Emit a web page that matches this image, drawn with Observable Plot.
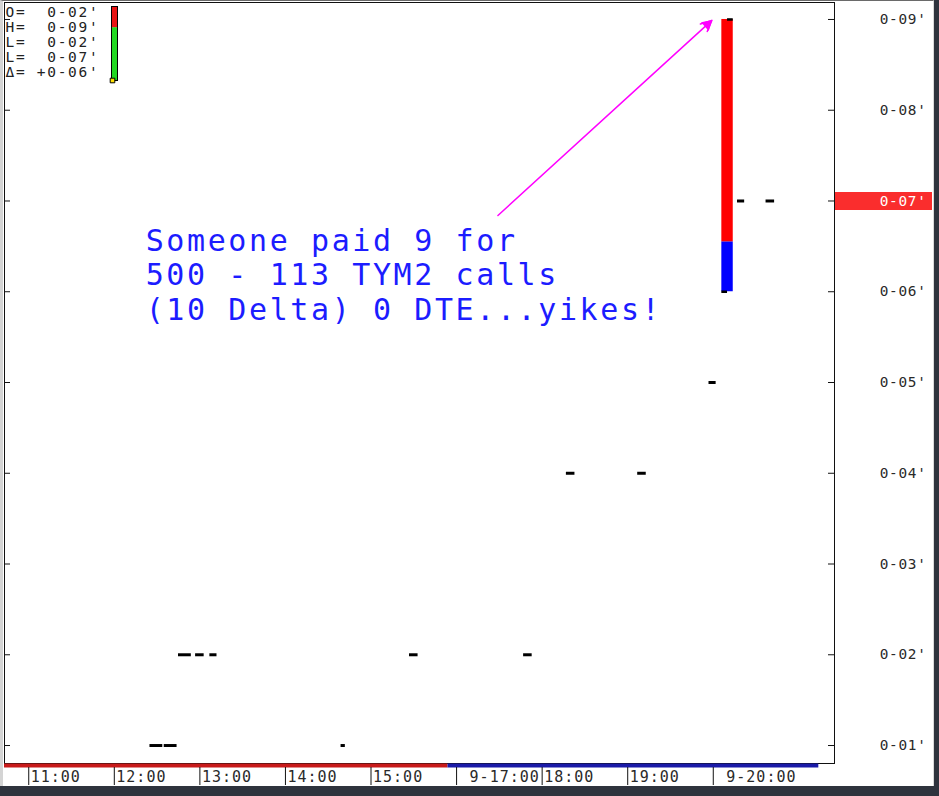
<!DOCTYPE html>
<html><head><meta charset="utf-8">
<script src="https://cdn.jsdelivr.net/npm/d3@7"></script>
<script src="https://cdn.jsdelivr.net/npm/@observablehq/plot@0.6"></script>
<style>
html,body{margin:0;padding:0;background:#2e333d;}
#wrap{position:relative;width:939px;height:796px;overflow:hidden;background:#2e333d;}
#panel{position:absolute;left:0;top:0;width:934px;height:786px;background:#fff;border-left:3px solid #d4d4d4;border-top:1px solid #6a6a6a;border-right:1px solid #d9d9d9;box-sizing:border-box;}
#chart{position:absolute;left:0;top:0;}
#mini{position:absolute;left:108px;top:0;}
svg text{white-space:pre;}
</style></head><body>
<div id="wrap"><div id="panel"></div><div id="chart"></div><div id="mini"></div></div>
<script>
// ---- data ----
const priceLevels = [1, 2, 3, 4, 5, 6, 7, 8, 9];
const priceLabels = ["0-01'", "0-02'", "0-03'", "0-04'", "0-05'", "0-06'", "0-07'", "0-08'", "0-09'"];
const yDomain = [0.802, 9.187];
const xDomain = ["10:43", "21:25"];

const timeTicks = ["11:00", "12:00", "13:00", "14:00", "15:00", "17:00", "18:00", "19:00", "20:00"];
const timeTickLabels = ["11:00", "12:00", "13:00", "14:00", "15:00", "9-17:00", "18:00", "19:00", "9-20:00"];

const tradeStarts = ["12:25", "12:35", "14:39", "12:45", "12:57", "13:07", "15:27", "17:47", "18:17", "19:07", "19:57", "20:17", "20:37"];
const tradeEnds   = ["12:34", "12:44", "14:42", "12:54", "13:03", "13:12", "15:33", "17:53", "18:23", "19:13", "20:02", "20:22", "20:43"];
const tradePrices = [1, 1, 1, 2, 2, 2, 2, 2, 4, 4, 5, 7, 7];

const bigBarTimes = ["20:06", "20:10", "20:14"]; // start, mid, end
const bigBarOpen = 6, bigBarClose = 9;
const bigBarLows = [6, 6.55];
const bigBarHighs = [6.55, 9];
const bigBarColors = ["#0000ff", "#ff0000"];

const sessionStarts = ["10:43", "15:54"];
const sessionEnds = ["15:54", "21:14"];
const sessionColors = ["#c81a1a", "#1a1aa8"];

const arrowTimes = ["17:29", "19:59"];
const arrowPrices = [6.84, 8.99];

const noteLines = ["Someone paid 9 for", "500 - 113 TYM2 calls", "(10 Delta) 0 DTE...yikes!"];
const noteTime = "12:22";
const notePrice = 6.72;

const legendKeys = ["O=", "H=", "L=", "L=", "Δ="];
const legendValues = ["0-02'", "0-09'", "0-02'", "0-07'", "+0-06'"];
const dayOpen = 2, dayHigh = 9, dayLow = 2, lastPrice = 7;

// ---- helpers ----
function tIndex(s) {
  const [h, m] = s.split(":").map(Number);
  const v = h + m / 60;
  return v >= 17 ? v - 1 : Math.min(v, 16); // remove 16:00-17:00 session break
}
const trades = tradeStarts.map((s, i) => ({start: s, end: tradeEnds[i], price: tradePrices[i]}));
const bigBar = bigBarLows.map((lo, i) => ({lo, hi: bigBarHighs[i], color: bigBarColors[i]}));
const sessions = sessionStarts.map((s, i) => ({start: s, end: sessionEnds[i], color: sessionColors[i]}));

const W = 939, H = 796, ML = 4, MR = 105, MT = 2, MB = 33;
const plotW = W - ML - MR, plotH = H - MT - MB;
const mono = "DejaVu Sans Mono";
const FS_NOTE = 30, FS_LEGEND = 14.5, FS_PRICE = 14.4, FS_TIME = 15;
const spacingBySize = {[FS_NOTE]: "2.6px", [FS_LEGEND]: "1.7px", [FS_PRICE]: "0.7px", [FS_TIME]: "1px"};

const chart = Plot.plot({
  width: W, height: H,
  marginLeft: ML, marginRight: MR, marginTop: MT, marginBottom: MB,
  style: {background: "transparent", fontFamily: mono},
  x: {domain: xDomain.map(tIndex), axis: null},
  y: {domain: yDomain, axis: null},
  marks: [
    // last price highlight
    Plot.ruleY([lastPrice], {stroke: "#fa2d2d", strokeWidth: 18, insetLeft: plotW - 98, dx: 98}),
    Plot.frame({stroke: "#111"}),
    Plot.ruleY(priceLevels, {insetRight: plotW - 6, stroke: "#111"}),
    Plot.ruleY(priceLevels, {insetLeft: plotW - 6, stroke: "#111"}),
    Plot.text(priceLevels, {
      y: d => d, text: (d, i) => priceLabels[i], frameAnchor: "right", dx: 92,
      textAnchor: "end", fontSize: FS_PRICE, fill: d => d === lastPrice ? "#fff" : "#2a2a2a"
    }),
    // session strip
    Plot.ruleY(sessions, {
      y: yDomain[0], x1: d => tIndex(d.start), x2: d => tIndex(d.end),
      stroke: d => d.color, strokeWidth: 4, dy: 2
    }),
    // time axis
    Plot.tickX(timeTicks, {x: d => tIndex(d), insetTop: plotH - 18, dy: 22, stroke: "#111"}),
    Plot.text(timeTicks, {
      filter: (d, i) => !timeTickLabels[i].includes("-"),
      x: d => tIndex(d), text: d => timeTickLabels[timeTicks.indexOf(d)],
      frameAnchor: "bottom", dy: 18, dx: 2, textAnchor: "start", fontSize: FS_TIME, fill: "#2a2a2a"
    }),
    Plot.text(timeTicks, {
      filter: (d, i) => timeTickLabels[i].includes("-"),
      x: d => tIndex(d), text: d => timeTickLabels[timeTicks.indexOf(d)],
      frameAnchor: "bottom", dy: 18, dx: 13, textAnchor: "start", fontSize: FS_TIME, fill: "#2a2a2a"
    }),
    // trades
    Plot.ruleY(trades, {y: "price", x1: d => tIndex(d.start), x2: d => tIndex(d.end), stroke: "#000", strokeWidth: 3}),
    // big bar
    Plot.rect(bigBar, {x1: tIndex(bigBarTimes[0]), x2: tIndex(bigBarTimes[2]), y1: "lo", y2: "hi", fill: d => d.color}),
    Plot.ruleY([bigBarOpen], {x1: tIndex(bigBarTimes[0]), x2: tIndex(bigBarTimes[1]), stroke: "#000", strokeWidth: 2.5}),
    Plot.ruleY([bigBarClose], {x1: tIndex(bigBarTimes[1]), x2: tIndex(bigBarTimes[2]), stroke: "#000", strokeWidth: 2.5}),
    // annotation arrow
    Plot.arrow([0], {
      x1: tIndex(arrowTimes[0]), y1: arrowPrices[0], x2: tIndex(arrowTimes[1]), y2: arrowPrices[1],
      stroke: "#ff00ff", strokeWidth: 1.5, headLength: 12, headAngle: 50
    }),
    Plot.dot([0], {
      x: tIndex(arrowTimes[1]), y: arrowPrices[1], symbol: "triangle2", r: 5.5,
      fill: "#ff00ff", rotate: 48, dx: -4.5, dy: 4
    }),
    Plot.text([noteLines.join("\n")], {
      x: tIndex(noteTime), y: notePrice, textAnchor: "start", lineAnchor: "top",
      fontSize: FS_NOTE, lineHeight: 1.15, fill: "#1c1cff"
    }),
    // OHLC legend
    Plot.text([legendKeys.map((k, i) => k.padEnd(3) + legendValues[i].padStart(6)).join("\n")], {
      frameAnchor: "top-left", dx: 1, dy: 4, textAnchor: "start", lineAnchor: "top",
      fontSize: FS_LEGEND, lineHeight: 1.03, fill: "#222"
    })
  ]
});
d3.select(chart).selectAll("g[font-size]").each(function() {
  const ls = spacingBySize[+this.getAttribute("font-size")];
  if (ls) this.style.letterSpacing = ls;
});
document.getElementById("chart").appendChild(chart);

const mini = Plot.plot({
  width: 14, height: 86, marginLeft: 3, marginRight: 5, marginTop: 6, marginBottom: 6,
  style: {background: "transparent", overflow: "visible"},
  x: {domain: [0, 1], axis: null},
  y: {domain: [dayLow, dayHigh], axis: null},
  marks: [
    Plot.rect([0], {x1: 0, x2: 1, y1: dayLow, y2: lastPrice, fill: "#22d822"}),
    Plot.rect([0], {x1: 0, x2: 1, y1: lastPrice, y2: dayHigh, fill: "#e81414"}),
    Plot.frame({stroke: "#000"}),
    Plot.dot([dayOpen], {x: 0, y: d => d, symbol: "square", r: 2.6, fill: "#ffe000", stroke: "#000", strokeWidth: 1, dx: 1})
  ]
});
document.getElementById("mini").appendChild(mini);
</script>
</body></html>
